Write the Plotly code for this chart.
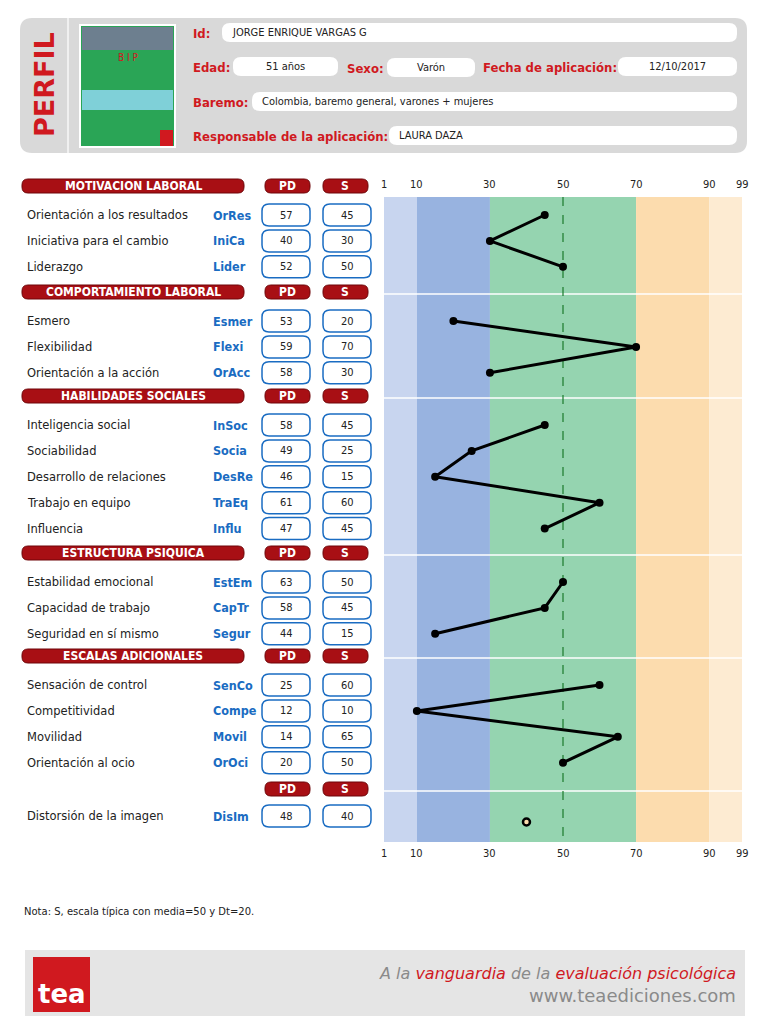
import plotly.graph_objects as go

sections = ["MOTIVACION LABORAL", "COMPORTAMIENTO LABORAL", "HABILIDADES SOCIALES",
            "ESTRUCTURA PSIQUICA", "ESCALAS ADICIONALES", ""]
names = [["Orientación a los resultados", "Iniciativa para el cambio", "Liderazgo"],
         ["Esmero", "Flexibilidad", "Orientación a la acción"],
         ["Inteligencia social", "Sociabilidad", "Desarrollo de relaciones", "Trabajo en equipo", "Influencia"],
         ["Estabilidad emocional", "Capacidad de trabajo", "Seguridad en sí mismo"],
         ["Sensación de control", "Competitividad", "Movilidad", "Orientación al ocio"],
         ["Distorsión de la imagen"]]
codes = [["OrRes", "IniCa", "Lider"], ["Esmer", "Flexi", "OrAcc"],
         ["InSoc", "Socia", "DesRe", "TraEq", "Influ"], ["EstEm", "CapTr", "Segur"],
         ["SenCo", "Compe", "Movil", "OrOci"], ["DisIm"]]
pd_vals = [[57, 40, 52], [53, 59, 58], [58, 49, 46, 61, 47], [63, 58, 44], [25, 12, 14, 20], [48]]
s_vals = [[45, 30, 50], [20, 70, 30], [45, 25, 15, 60, 45], [50, 45, 15], [60, 10, 65, 50], [40]]
tick_vals = [1, 10, 30, 50, 70, 90, 99]
bands = [(1, 10, "#c8d5ef"), (10, 30, "#98b3e0"), (30, 70, "#95d4b0"), (70, 90, "#fcdcae"), (90, 99, "#fdebd2")]

header_y = [186, 292, 396, 553, 656, 789]
row_step = 25.9
RED = "#d0191f"
BLUE = "#1a6cc2"

shapes, ann = [], []

def rr(x0, y0, x1, y1, r, fill, line=None, lw=0, layer="below"):
    p = (f"M{x0+r},{y0} L{x1-r},{y0} Q{x1},{y0} {x1},{y0+r} L{x1},{y1-r} Q{x1},{y1} {x1-r},{y1} "
         f"L{x0+r},{y1} Q{x0},{y1} {x0},{y1-r} L{x0},{y0+r} Q{x0},{y0} {x0+r},{y0} Z")
    shapes.append(dict(type="path", path=p, xref="x", yref="y", fillcolor=fill,
                       line=dict(color=line or fill, width=lw), layer=layer))

def txt(x, y, t, size=12, color="#222", anchor="left", font="DejaVu Sans Condensed", ref="x", **kw):
    ann.append(dict(x=x, y=y, xref=ref, yref="y", text=t, showarrow=False, xanchor=anchor,
                    yanchor="middle", font=dict(size=size, color=color, family=font), **kw))

# header panel
rr(20, 18, 747, 153, 12, "#d9d9d9")
shapes.append(dict(type="line", x0=68, x1=68, y0=18, y1=153, xref="x", yref="y", line=dict(color="#f0f0f0", width=2), layer="below"))
txt(44, 85, "<b>PERFIL</b>", 27, RED, "center", "DejaVu Sans", textangle=-90)
shapes.append(dict(type="rect", x0=80, x1=175, y0=25, y1=147, xref="x", yref="y", fillcolor="#2aa556", line=dict(color="#ffffff", width=2)))
shapes.append(dict(type="rect", x0=82, x1=173, y0=27, y1=50, xref="x", yref="y", fillcolor="#6d7f8f", line=dict(width=0)))
shapes.append(dict(type="rect", x0=82, x1=173, y0=90, y1=110, xref="x", yref="y", fillcolor="#7fd0d8", line=dict(width=0)))
shapes.append(dict(type="rect", x0=160, x1=173, y0=130, y1=146, xref="x", yref="y", fillcolor=RED, line=dict(width=0)))
txt(128, 57, "B I P", 10, RED, "center")
for (x0, x1, y0, y1, val, lab, lx) in [
        (222, 737, 23, 42, "JORGE ENRIQUE VARGAS G", "Id:", 191),
        (233, 338, 57, 76, "51 años", "Edad:", 191),
        (387, 475, 58, 77, "Varón", "Sexo:", 345),
        (618, 737, 57, 76, "12/10/2017", "Fecha de aplicación:", 481),
        (252, 737, 92, 111, "Colombia, baremo general, varones + mujeres", "Baremo:", 191),
        (389, 737, 126, 145, "LAURA DAZA", "Responsable de la aplicación:", 191)]:
    rr(x0, y0, x1, y1, 8, "#ffffff")
    centered = val in ("51 años", "Varón", "12/10/2017")
    txt((x0 + x1) / 2 if centered else x0 + 8, (y0 + y1) / 2, val, 11, "#222", "center" if centered else "left")
    txt(lx, (y0 + y1) / 2 + 1, f"<b>{lab}</b>", 13, RED)

# bands
xs, ys = [], []
for b0, b1, c in bands:
    shapes.append(dict(type="rect", x0=b0, x1=b1, y0=197, y1=842, xref="x2", yref="y", fillcolor=c, line=dict(width=0), layer="below"))
for hy in header_y[1:]:
    shapes.append(dict(type="line", x0=1, x1=99, y0=hy + 2, y1=hy + 2, xref="x2", yref="y", line=dict(color="white", width=1.5), layer="below"))
shapes.append(dict(type="line", x0=50, x1=50, y0=197, y1=842, xref="x2", yref="y", line=dict(color="#1c7a2c", width=1.2, dash="dash"), layer="below"))
for t in tick_vals:
    txt(t, 184, str(t), 11, "#222", "center", ref="x2")
    txt(t, 853, str(t), 11, "#222", "center", ref="x2")

# rows
for si, sec in enumerate(sections):
    hy = header_y[si]
    if sec:
        rr(22, hy - 7, 244, hy + 7, 6, "#a80f14", "#6e0508", 1)
        txt(133, hy, f"<b>{sec}</b>", 12, "white", "center")
    for (x0, x1) in [(265, 310), (323, 368)]:
        rr(x0, hy - 7, x1, hy + 7, 6, "#a80f14", "#6e0508", 1)
    txt(287, hy, "<b>PD</b>", 12, "white", "center")
    txt(345, hy, "<b>S</b>", 12, "white", "center")
    for ri, nm in enumerate(names[si]):
        y = hy + 29 + ri * row_step if si < 5 else hy + 27
        txt(25, y, nm, 11.5, "#222", font="DejaVu Sans")
        txt(211, y, f"<b>{codes[si][ri]}</b>", 12.5, BLUE)
        rr(262, y - 11, 310, y + 11, 7, "white", BLUE, 1.5)
        rr(323, y - 11, 371, y + 11, 7, "white", BLUE, 1.5)
        txt(286, y, str(pd_vals[si][ri]), 11, "#222", "center")
        txt(347, y, str(s_vals[si][ri]), 11, "#222", "center")
        if si < 5:
            xs.append(s_vals[si][ri]); ys.append(y)
        else:
            dx, dy = s_vals[si][ri], y + 6
    if si < 5:
        xs.append(None); ys.append(None)

fig = go.Figure()
fig.add_trace(go.Scatter(x=xs, y=ys, xaxis="x2", yaxis="y", mode="lines+markers",
                         line=dict(color="black", width=3), marker=dict(color="black", size=8),
                         connectgaps=False, hoverinfo="skip"))
fig.add_trace(go.Scatter(x=[dx], y=[dy], xaxis="x2", yaxis="y", mode="markers",
                         marker=dict(color="#fcdcae", size=7, line=dict(color="black", width=2.5)), hoverinfo="skip"))

# footer
txt(22, 911, "Nota: S, escala típica con media=50 y Dt=20.", 10, "#222", font="DejaVu Sans")
shapes.append(dict(type="rect", x0=25, x1=745, y0=950, y1=1016, xref="x", yref="y", fillcolor="#e5e5e5", line=dict(width=0), layer="below"))
shapes.append(dict(type="rect", x0=33, x1=90, y0=957, y1=1012, xref="x", yref="y", fillcolor=RED, line=dict(width=0)))
txt(62, 994, "<b>tea</b>", 26, "white", "center", "DejaVu Sans")
txt(738, 973, "<i>A la <span style='color:#d0191f'>vanguardia</span> de la <span style='color:#d0191f'>evaluación psicológica</span></i>",
    16, "#8a8a8a", "right", "DejaVu Sans")
txt(738, 995, "www.teaediciones.com", 18, "#8a8a8a", "right", "DejaVu Sans")

fig.update_layout(width=768, height=1024, margin=dict(l=0, r=0, t=0, b=0),
                  paper_bgcolor="white", plot_bgcolor="rgba(0,0,0,0)", showlegend=False,
                  shapes=shapes, annotations=ann,
                  xaxis=dict(range=[0, 768], domain=[0, 1], visible=False, fixedrange=True),
                  yaxis=dict(range=[1024, 0], domain=[0, 1], visible=False, fixedrange=True),
                  xaxis2=dict(range=[1, 99], domain=[384 / 768, 742 / 768], anchor="y", visible=False, fixedrange=True))
fig.write_html("out.html", config={"displayModeBar": False})
with open("out.html", encoding="utf-8") as f:
    html = f.read()
html = html.replace("<body>", "<body style=\"margin:0;overflow:hidden\">", 1)
with open("out.html", "w", encoding="utf-8") as f:
    f.write(html)
